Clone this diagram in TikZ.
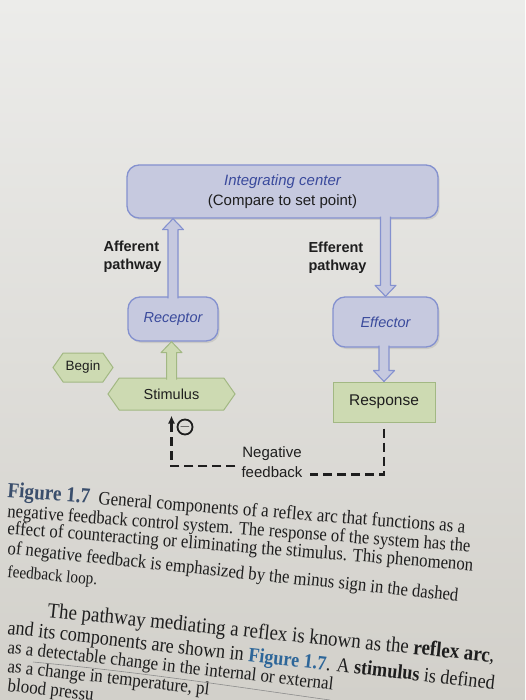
\documentclass[tikz,border=0pt]{standalone}
\usepackage{fontspec}
\setmainfont{Liberation Serif}
\setsansfont{Liberation Sans}
\usepackage{graphicx}
\usepackage{tikz}
\usetikzlibrary{calc, positioning, shapes.symbols, shadows, arrows.meta}

\definecolor{boxblue}{HTML}{C6C9DF}
\definecolor{edgeblue}{HTML}{8491CF}
\definecolor{labelblue}{HTML}{3A4A9C}
\definecolor{boxgreen}{HTML}{CDDAB2}
\definecolor{edgegreen}{HTML}{A2B883}
\definecolor{inkgray}{HTML}{1E1E1E}
\definecolor{figblue}{HTML}{3A4E6C}
\definecolor{refblue}{HTML}{2D6699}
\definecolor{paperhi}{HTML}{ECECEA}
\definecolor{paperlo}{HTML}{D2D0CA}

% wide hollow arrow from #2 to #3, open at its tail
\newcommand{\blockarrow}[3]{%
  \coordinate (bh) at ($(#3)!11pt!(#2)$);
  \filldraw[#1] ($(#2)!5pt!-90:(#3)$) -- ($(bh)!5pt!90:(#2)$) -- ($(bh)!10.5pt!90:(#2)$)
    -- (#3) -- ($(bh)!10.5pt!-90:(#2)$) -- ($(bh)!5pt!-90:(#2)$) -- ($(#2)!5pt!90:(#3)$);}
% one printed line, fitted to its width and a little taller
\newcommand{\pline}[2]{\scalebox{1}[1.12]{\resizebox{#1pt}{!}{#2}}}

\begin{document}
\begin{tikzpicture}[x=1pt, y=-1pt,
    bluebox/.style={draw=edgeblue, fill=boxblue, line width=1.3pt, rounded corners=12pt,
      drop shadow={opacity=0.22, shadow xshift=1.5pt, shadow yshift=-2pt}},
    greenbox/.style={draw=edgegreen, fill=boxgreen, line width=1pt},
    hexbox/.style={greenbox, signal, signal to=west and east, signal pointer angle=110, inner sep=0pt},
    bluearrow/.style={draw=edgeblue, fill=boxblue, line width=1.1pt, line join=round},
    greenarrow/.style={draw=edgegreen, fill=boxgreen, line width=1pt, line join=round},
    diagtext/.style={font=\sffamily\fontsize{14.5}{18}\selectfont, text=inkgray},
    bluetext/.style={font=\sffamily\itshape\fontsize{14.5}{18}\selectfont, text=labelblue},
    feedback/.style={draw=inkgray, line width=2.6pt, dash pattern=on 9pt off 5pt},
    capline/.style={anchor=base west, inner sep=0pt, text=inkgray, font=\fontsize{16}{16}\selectfont},
    pencil/.style={draw=black!45, line width=0.6pt}]
    \useasboundingbox (0,0) rectangle (525,700);
    \clip (0,0) rectangle (525,700);
    \shade[top color=paperhi, bottom color=paperlo] (0,0) rectangle (525,700);

    % boxes of the reflex arc
    \node[bluebox, minimum width=311pt, minimum height=53pt, align=center, diagtext,
      font=\sffamily\fontsize{15}{20}\selectfont] (ic) at (282.5,191.5)
      {{\itshape\color{labelblue}Integrating center}\\(Compare to set point)};
    \node[bluebox, minimum width=90pt, minimum height=44pt, bluetext] (rec) at (173,319) {Receptor};
    \node[bluebox, minimum width=105pt, minimum height=50pt, bluetext] (eff) at (385.5,322) {Effector};
    \node[greenbox, minimum width=102pt, minimum height=40pt, diagtext,
      font=\sffamily\fontsize{15.5}{18}\selectfont] (resp) at (384,402) {Response};
    \node[hexbox, minimum width=60pt, minimum height=29pt, diagtext,
      font=\sffamily\fontsize{13.5}{16}\selectfont] (begin) at (83,367.5) {Begin};
    \node[hexbox, minimum width=127pt, minimum height=32pt, diagtext] (stim) at (171.5,394) {Stimulus};

    \node[diagtext, font=\sffamily\bfseries\fontsize{14.5}{18}\selectfont, align=left, anchor=west]
      (aff) at (100,257) {Afferent\\pathway};
    \node[diagtext, font=\sffamily\bfseries\fontsize{14.5}{18}\selectfont, align=left, anchor=west]
      (effl) at (305,258) {Efferent\\pathway};

    % pathways
    \coordinate (affS) at ($(rec.north)+(0,2)$);
    \coordinate (affE) at (rec.north |- ic.south);
    \coordinate (efS) at ($(ic.south -| eff.north)+(0,-2)$);
    \coordinate (stS) at ($(stim.north)+(0,2)$);
    \coordinate (stE) at (stim.north |- rec.south);
    \coordinate (reS) at ($(resp.north |- eff.south)+(0,-2)$);
    \blockarrow{bluearrow}{affS}{affE}
    \blockarrow{bluearrow}{efS}{eff.north}
    \blockarrow{bluearrow}{reS}{resp.north}
    \blockarrow{greenarrow}{stS}{stE}

    % negative feedback loop
    \node[diagtext, font=\sffamily\fontsize{15}{20}\selectfont, align=center, inner sep=2pt]
      (neg) at (272,462) {Negative\\feedback};
    \node[draw=inkgray, circle, line width=1.8pt, minimum size=15pt, inner sep=0pt, text=inkgray]
      (minus) at (185,427) {\fontsize{15}{15}\selectfont$-$};
    \coordinate (fbR) at ($(resp.south)+(0,52)$);
    \coordinate (fbL) at ($(neg.west)+(-4,4)$);
    \draw[feedback] ($(resp.south)+(0,6)$) -- (fbR) -- ($(neg.east |- fbR)+(5,0)$);
    \draw[feedback, -{Latex[length=8pt,width=7pt]}] (fbL) -| ($(stim.south)+(0,5)$);

    % caption
    \node[capline, rotate=-4.5] (cap1) at (7,497)
      {\pline{459}{{\bfseries\color{figblue}\fontsize{18}{18}\selectfont Figure 1.7}\enspace General components of a reflex arc that functions as a}};
    \node[capline, rotate=-4.3] (cap2) at (7,517)
      {\pline{464}{negative feedback control system. The response of the system has the}};
    \node[capline, rotate=-4.5] (cap3) at (7,534)
      {\pline{467}{effect of counteracting or eliminating the stimulus. This phenomenon}};
    \node[capline, rotate=-6] (cap4) at (7,554)
      {\pline{453}{of negative feedback is emphasized by the minus sign in the dashed}};
    \node[capline, rotate=-5] (cap5) at (7,577) {\pline{90}{feedback loop.}};

    % running text
    \node[capline, rotate=-5.8] (txt1) at (47,617)
      {\pline{449}{The pathway mediating a reflex is known as the \textbf{reflex arc},}};
    \node[capline, rotate=-6.5] (txt2) at (7,634)
      {\pline{490}{and its components are shown in \textbf{\color{refblue}Figure 1.7}. A \textbf{stimulus} is defined}};
    \node[capline, rotate=-6.5, font=\fontsize{17}{17}\selectfont] (txt3) at (7,653)
      {\scalebox{1}[1.1]{as a detectable change in the internal or external}};
    \node[capline, rotate=-6.5, font=\fontsize{17}{17}\selectfont] (txt4) at (7,672)
      {\scalebox{1}[1.1]{as a change in temperature, pl}};
    \node[capline, rotate=-6.5, font=\fontsize{17}{17}\selectfont] (txt5) at (7,691)
      {\scalebox{1}[1.1]{blood pressu}};
    \draw[pencil] (33,662) .. controls (150,673) and (250,689) .. (330,700);
\end{tikzpicture}
\end{document}
